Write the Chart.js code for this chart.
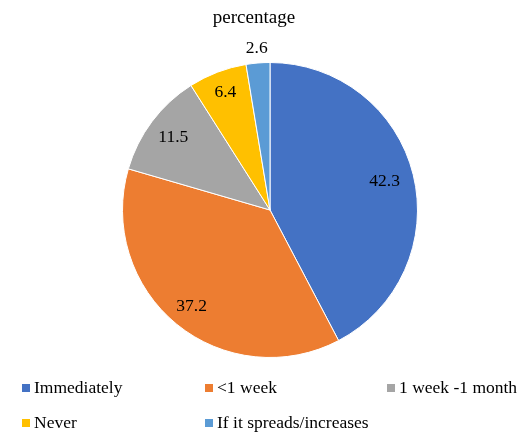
<!DOCTYPE html>
<html>
<head>
<meta charset="utf-8">
<script src="https://cdn.jsdelivr.net/npm/chart.js@4"></script>
<style>
  body { margin: 0; background: #fff; font-family: "Liberation Serif", "Times New Roman", serif; }
  #wrap { position: relative; width: 529px; height: 434px; }
  #chart { position: absolute; left: 0; top: 0; }
  #title { position: absolute; left: 0; width: 508px; top: 6px; text-align: center; font-size: 19px; line-height: 22px; color: #000; }
  .leg { position: absolute; font-size: 17.5px; color: #000; white-space: nowrap; line-height: 20px; }
  .leg span { display: inline-block; width: 8px; height: 8px; margin-right: 4px; vertical-align: 1px; }
</style>
</head>
<body>
<div id="wrap">
  <canvas id="chart" width="529" height="434"></canvas>
  <div id="title">percentage</div>
  <div id="legend"></div>
</div>
<script>
// dados do gráfico
const categories = ['Immediately', '<1 week', '1 week -1 month', 'Never', 'If it spreads/increases'];
const percentages = [42.3, 37.2, 11.5, 6.4, 2.6];
const sliceColors = ['#4472C4', '#ED7D31', '#A5A5A5', '#FFC000', '#5B9BD5'];

// posição dos rótulos (fração do raio)
const labelRadius = [0.8, 0.84, 0.82, 0.85, 1.1];
const legendPos = [[22, 377], [205, 377], [387, 377], [22, 412], [205, 412]];

const labelPlugin = {
    id: 'sliceLabels',
    afterDatasetsDraw(chart) {
        const ctx = chart.ctx;
        const meta = chart.getDatasetMeta(0);
        ctx.save();
        ctx.font = '17.5px "Liberation Serif", "Times New Roman", serif';
        ctx.fillStyle = '#000';
        ctx.textAlign = 'center';
        ctx.textBaseline = 'middle';
        meta.data.forEach((arc, i) => {
            const p = arc.getProps(['x', 'y', 'startAngle', 'endAngle', 'outerRadius'], true);
            const mid = (p.startAngle + p.endAngle) / 2;
            const r = p.outerRadius * labelRadius[i];
            ctx.fillText(percentages[i].toFixed(1), p.x + Math.cos(mid) * r, p.y + Math.sin(mid) * r);
        });
        ctx.restore();
    }
};

new Chart(document.getElementById('chart').getContext('2d'), {
    type: 'pie',
    data: {
        labels: categories,
        datasets: [{
            data: percentages,
            backgroundColor: sliceColors,
            borderColor: '#ffffff',
            borderWidth: 1
        }]
    },
    options: {
        responsive: false,
        animation: false,
        layout: { padding: { top: 62, bottom: 76, left: 11, right: 0 } },
        plugins: {
            legend: { display: false },
            tooltip: { enabled: false }
        }
    },
    plugins: [labelPlugin]
});

// legenda em HTML
const legendEl = document.getElementById('legend');
categories.forEach((name, i) => {
    const d = document.createElement('div');
    d.className = 'leg';
    d.style.left = legendPos[i][0] + 'px';
    d.style.top = legendPos[i][1] + 'px';
    const box = document.createElement('span');
    box.style.background = sliceColors[i];
    d.appendChild(box);
    d.appendChild(document.createTextNode(name));
    legendEl.appendChild(d);
});
</script>
</body>
</html>
